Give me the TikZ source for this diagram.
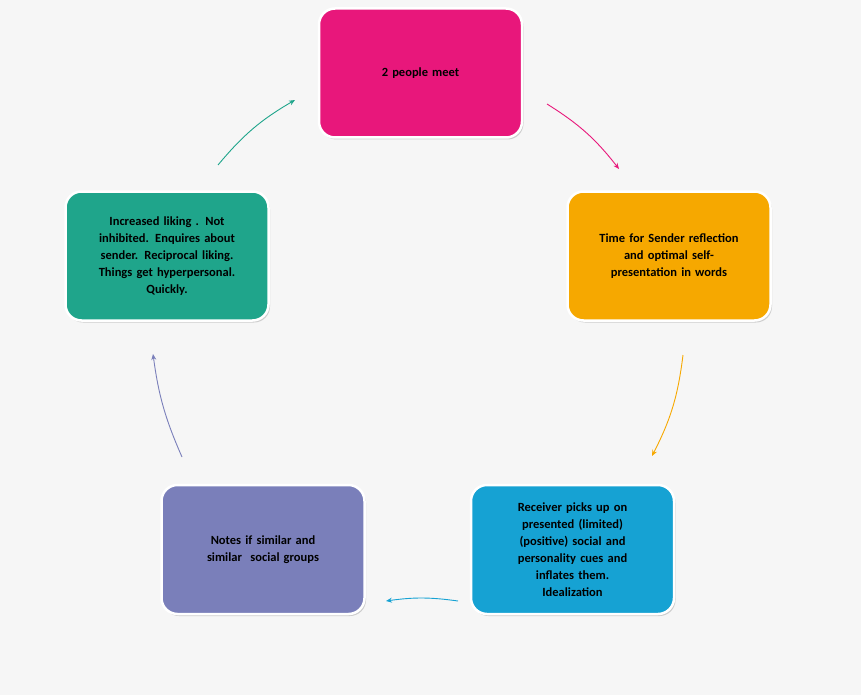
\documentclass[tikz,border=0pt]{standalone}
\usepackage{fontspec}
\setmainfont{Carlito}
\usetikzlibrary{shadows,arrows.meta}
\definecolor{cmag}{HTML}{E8177B}
\definecolor{corg}{HTML}{F6A800}
\definecolor{ccyan}{HTML}{16A2D3}
\definecolor{cpur}{HTML}{7A7FBA}
\definecolor{cteal}{HTML}{1FA58B}
\tikzset{
 boxn/.style={draw=white,line width=2.5pt,rounded corners=16pt,minimum width=203pt,minimum height=129pt,
   drop shadow={shadow xshift=1.5pt,shadow yshift=-2pt,opacity=0.5,fill=gray!70},
   align=center,font=\bfseries\fontsize{12.5}{17}\selectfont,text width=185pt,text=black},
 arr/.style={line width=0.9pt,-{Stealth[length=6pt,width=5pt]}}
}
\begin{document}
\begin{tikzpicture}[x=1pt,y=-1pt]
\fill[gray!7] (0,0) rectangle (861,695);
\useasboundingbox (0,0) rectangle (861,695);
\node[boxn,fill=cmag] (a) at (420.5,73) {2 people meet};
\node[boxn,fill=corg] (b) at (669,256) {Time for Sender reflection\\and optimal self-\\presentation in words};
\node[boxn,fill=ccyan] (c) at (572.5,549.5) {Receiver picks up on\\presented (limited)\\(positive) social and\\personality cues and\\inflates them.\\Idealization};
\node[boxn,fill=cpur] (d) at (263,549.5) {Notes if similar and\\similar\ \ social groups\\[22pt]};
\node[boxn,fill=cteal] (e) at (167,256) {Increased liking . Not\\inhibited. Enquires about\\sender. Reciprocal liking.\\Things get hyperpersonal.\\Quickly.};
\coordinate (a1) at (547,104); \coordinate (b1) at (619,169);
\coordinate (b2) at (683,355); \coordinate (c1) at (652,456);
\coordinate (c2) at (458,601); \coordinate (d1) at (386,601);
\coordinate (d2) at (182,457); \coordinate (e1) at (153,354);
\coordinate (e2) at (218,165); \coordinate (a2) at (295,100);
\draw[arr,cmag] (a1) to[bend left=10] (b1);
\draw[arr,corg] (b2) to[bend left=10] (c1);
\draw[arr,ccyan] (c2) to[bend right=8] (d1);
\draw[arr,cpur] (d2) to[bend left=8] (e1);
\draw[arr,cteal] (e2) to[bend left=10] (a2);
\end{tikzpicture}
\end{document}
